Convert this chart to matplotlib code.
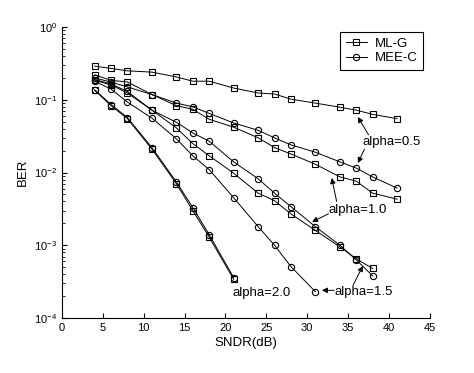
import numpy as np
import matplotlib
matplotlib.use("Agg")
import matplotlib.pyplot as plt

plt.rcParams['font.family'] = ['Liberation Sans', 'DejaVu Sans']

# SNDR grid (dB)
snr = [4, 6, 8, 11, 14, 16, 18, 21, 24, 26, 28, 31, 34, 36, 38, 41]

# alpha = 0.5
mlg_05 = [0.29, 0.27, 0.25, 0.24, 0.206, 0.18, 0.18, 0.145, 0.124, 0.12,
          0.102, 0.09, 0.079, 0.072, 0.063, 0.055]
mee_05 = [0.20, 0.175, 0.15, 0.118, 0.09, 0.08, 0.065, 0.048, 0.038, 0.030,
          0.024, 0.019, 0.014, 0.0115, 0.0087, 0.0061]
# alpha = 1.0
mlg_10 = [0.22, 0.185, 0.176, 0.118, 0.083, 0.074, 0.054, 0.042, 0.030, 0.022,
          0.018, 0.013, 0.0087, 0.0076, 0.0052, 0.0043]
mee_10 = [0.19, 0.165, 0.13, 0.072, 0.049, 0.035, 0.027, 0.014, 0.0082, 0.0052,
          0.0034, 0.0018, 0.001, 0.00063, 0.00038]
# alpha = 1.5
mlg_15 = [0.186, 0.16, 0.124, 0.072, 0.041, 0.025, 0.017, 0.0098, 0.0052, 0.0041,
          0.0027, 0.0016, 0.00095, 0.00065, 0.00048]
mee_15 = [0.18, 0.14, 0.093, 0.056, 0.029, 0.017, 0.011, 0.0045, 0.0018, 0.001,
          0.00051, 0.00023]
# alpha = 2.0
mlg_20 = [0.135, 0.083, 0.055, 0.021, 0.0070, 0.0030, 0.0013, 0.00034]
mee_20 = [0.137, 0.086, 0.057, 0.022, 0.0074, 0.0033, 0.0014, 0.00036]

fig = plt.figure(figsize=(4.74, 3.73), dpi=100)
ax = fig.add_axes([0.1308, 0.1475, 0.776, 0.780])

sq = dict(color='k', lw=0.7, marker='s', ms=4.5, mfc='none', mew=0.8)
ci = dict(color='k', lw=0.7, marker='o', ms=4.5, mfc='none', mew=0.8)

ax.semilogy(snr[:len(mlg_05)], mlg_05, label='ML-G', **sq)
ax.semilogy(snr[:len(mee_05)], mee_05, label='MEE-C', **ci)
ax.semilogy(snr[:len(mlg_10)], mlg_10, **sq)
ax.semilogy(snr[:len(mee_10)], mee_10, **ci)
ax.semilogy(snr[:len(mlg_15)], mlg_15, **sq)
ax.semilogy(snr[:len(mee_15)], mee_15, **ci)
ax.semilogy(snr[:len(mlg_20)], mlg_20, **sq)
ax.semilogy(snr[:len(mee_20)], mee_20, **ci)

ax.set_xlim(0, 45)
ax.set_ylim(1e-4, 1)
ax.set_xticks(range(0, 46, 5))
ax.spines['top'].set_visible(False)
ax.spines['right'].set_visible(False)
ax.spines['left'].set_linewidth(0.8)
ax.spines['bottom'].set_linewidth(0.8)
ax.tick_params(direction='in', labelsize=8, width=0.8)
ax.tick_params(which='minor', direction='in', length=2, width=0.6)
ax.set_xlabel('SNDR(dB)', fontsize=9.5, labelpad=3)
ax.set_ylabel('BER', fontsize=9.5, labelpad=4)

arr = dict(arrowstyle='-|>', color='k', lw=0.7, mutation_scale=8,
           shrinkA=0, shrinkB=0)
fs = 9.5
ax.text(36.8, 0.026, 'alpha=0.5', fontsize=fs, va='center')
ax.annotate('', xy=(36.2, 0.058), xytext=(37.5, 0.033), arrowprops=arr)
ax.annotate('', xy=(36.2, 0.0135), xytext=(37.0, 0.021), arrowprops=arr)

ax.text(32.6, 0.0031, 'alpha=1.0', fontsize=fs, va='center')
ax.annotate('', xy=(33.0, 0.0084), xytext=(33.6, 0.0040), arrowprops=arr)
ax.annotate('', xy=(30.6, 0.0021), xytext=(32.6, 0.0027), arrowprops=arr)

ax.text(33.3, 0.00023, 'alpha=1.5', fontsize=fs, va='center')
ax.annotate('', xy=(31.8, 0.00024), xytext=(33.3, 0.00024), arrowprops=arr)
ax.annotate('', xy=(36.8, 0.00052), xytext=(35.6, 0.00028), arrowprops=arr)

ax.text(20.8, 0.00022, 'alpha=2.0', fontsize=fs, va='center')

leg = ax.legend(loc='upper right', bbox_to_anchor=(0.892, 0.914),
                bbox_transform=fig.transFigure, borderaxespad=0,
                fontsize=fs, fancybox=False, framealpha=1,
                edgecolor='k', handlelength=1.6, handletextpad=0.6,
                borderpad=0.4, labelspacing=0.2)
leg.get_frame().set_linewidth(0.8)

fig.savefig('out.png', dpi=100)
